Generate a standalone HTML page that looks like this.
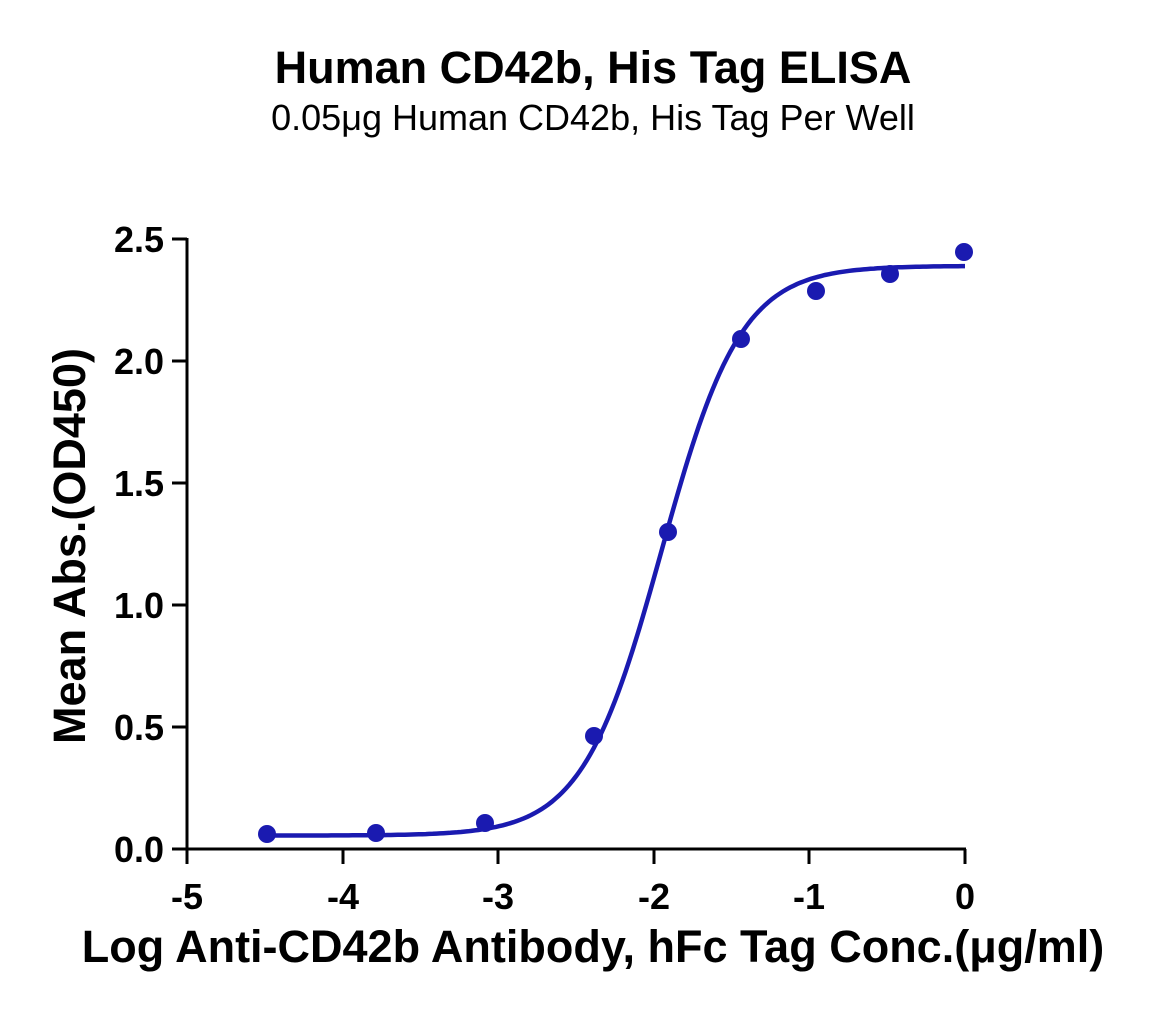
<!DOCTYPE html>
<html><head><meta charset="utf-8"><style>
body{margin:0;background:#fff;}
svg{display:block;font-family:"Liberation Sans",Arial,sans-serif;}
</style></head><body>
<svg width="1151" height="1012" viewBox="0 0 1151 1012" xmlns="http://www.w3.org/2000/svg">
<text x="593" y="83" text-anchor="middle" font-size="45" font-weight="bold">Human CD42b, His Tag ELISA</text>
<text x="593" y="130" text-anchor="middle" font-size="36">0.05μg Human CD42b, His Tag Per Well</text>
<g stroke="#000" stroke-width="3" fill="none">
<line x1="187" y1="238" x2="187" y2="850"/>
<line x1="186" y1="849" x2="966" y2="849"/>
<line x1="172" y1="239" x2="187" y2="239"/>
<line x1="172" y1="361" x2="187" y2="361"/>
<line x1="172" y1="483" x2="187" y2="483"/>
<line x1="172" y1="605" x2="187" y2="605"/>
<line x1="172" y1="727" x2="187" y2="727"/>
<line x1="172" y1="849" x2="187" y2="849"/>
<line x1="187" y1="849" x2="187" y2="864"/>
<line x1="343" y1="849" x2="343" y2="864"/>
<line x1="498" y1="849" x2="498" y2="864"/>
<line x1="654" y1="849" x2="654" y2="864"/>
<line x1="809" y1="849" x2="809" y2="864"/>
<line x1="965" y1="849" x2="965" y2="864"/>
</g>
<g font-size="36" font-weight="bold" text-anchor="end">
<text x="164" y="252">2.5</text>
<text x="164" y="374">2.0</text>
<text x="164" y="496">1.5</text>
<text x="164" y="618">1.0</text>
<text x="164" y="740">0.5</text>
<text x="164" y="862">0.0</text>
</g>
<g font-size="36" font-weight="bold" text-anchor="middle">
<text x="187" y="909">-5</text>
<text x="343" y="909">-4</text>
<text x="498" y="909">-3</text>
<text x="654" y="909">-2</text>
<text x="809" y="909">-1</text>
<text x="965" y="909">0</text>
</g>
<text x="593" y="962" text-anchor="middle" font-size="45" font-weight="bold">Log Anti-CD42b Antibody, hFc Tag Conc.(μg/ml)</text>
<text transform="translate(85,546) rotate(-90)" text-anchor="middle" font-size="45" font-weight="bold">Mean Abs.(OD450)</text>
<path id="curve" fill="none" stroke="#1a1ab0" stroke-width="4.5" d=""/>
<g fill="#1a1ab0">
<circle cx="267" cy="834" r="9"/>
<circle cx="376" cy="833" r="9"/>
<circle cx="485" cy="823" r="9"/>
<circle cx="594" cy="736" r="9"/>
<circle cx="668" cy="532" r="9"/>
<circle cx="741" cy="339" r="9"/>
<circle cx="816" cy="291" r="9"/>
<circle cx="890" cy="274" r="9"/>
<circle cx="964" cy="252" r="9"/>
</g>
<script>
var d="";for(var i=0;i<=200;i++){var x=-4.5+4.5*i/200;var y=0.055+2.335/(1+Math.pow(10,1.7*(-1.95-x)));var px=187+(x+5)*155.6,py=849-y*244;d+=(i?"L":"M")+px.toFixed(1)+" "+py.toFixed(1);}
document.getElementById("curve").setAttribute("d",d);
</script>
</svg>
</body></html>
